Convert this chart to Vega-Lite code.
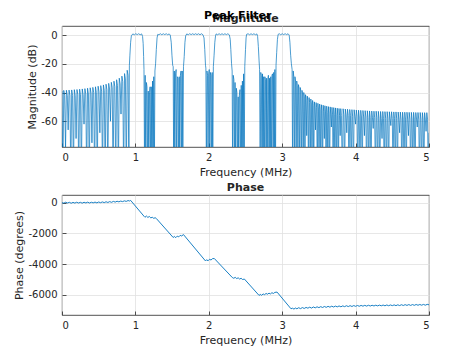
{
"$schema": "https://vega.github.io/schema/vega-lite/v6.json",
"background": "white",
"padding": {"left": 13, "top": 9, "right": 10, "bottom": 5},
"config": {
  "font": "DejaVu Sans",
  "view": {"stroke": "#262626", "strokeWidth": 0.8},
  "axis": {"grid": true, "gridColor": "#E1E1E1", "gridWidth": 0.8, "domain": false, "tickSize": -4, "tickColor": "#262626", "tickWidth": 0.8, "labelFontSize": 10, "titleFontSize": 11, "labelColor": "#262626", "titleColor": "#262626", "titleFontWeight": "normal", "labelFont": "DejaVu Sans", "titleFont": "DejaVu Sans", "labelExpr": "datum.value == 0 ? '0' : (datum.value < 0 ? '-' + abs(datum.value) : '' + datum.value)"},
  "axisX": {"labelPadding": 9, "titlePadding": 4},
  "axisY": {"labelPadding": 9, "titlePadding": 3},
  "title": {"fontSize": 11, "font": "DejaVu Sans", "fontWeight": "bold", "color": "#000000"}
},
"title": {"text": "Peak Filter", "offset": -8, "anchor": "middle", "dx": 16},
"spacing": 48,
"bounds": "flush",
"datasets": {
"mag": [
{"f":0.0,"db":-39},
{"f":0.012,"db":-100},{"f":0.024,"db":-38.5},{"f":0.036,"db":-42},
{"f":0.048,"db":-80},{"f":0.06,"db":-38.4},{"f":0.072,"db":-42},
{"f":0.084,"db":-66},{"f":0.096,"db":-38.3},{"f":0.108,"db":-42},
{"f":0.12,"db":-100},{"f":0.132,"db":-38.2},{"f":0.144,"db":-42},
{"f":0.156,"db":-100},{"f":0.168,"db":-38.0},{"f":0.18,"db":-42},
{"f":0.192,"db":-72},{"f":0.204,"db":-37.9},{"f":0.216,"db":-41.5},
{"f":0.228,"db":-100},{"f":0.24,"db":-37.7},{"f":0.252,"db":-41.5},
{"f":0.264,"db":-100},{"f":0.276,"db":-37.5},{"f":0.288,"db":-41.5},
{"f":0.3,"db":-62},{"f":0.312,"db":-37.3},{"f":0.324,"db":-41},
{"f":0.336,"db":-100},{"f":0.348,"db":-37.0},{"f":0.36,"db":-41},
{"f":0.372,"db":-100},{"f":0.384,"db":-36.7},{"f":0.396,"db":-40.5},
{"f":0.408,"db":-75},{"f":0.42,"db":-36.4},{"f":0.432,"db":-40},
{"f":0.444,"db":-100},{"f":0.456,"db":-36.0},{"f":0.468,"db":-40},
{"f":0.48,"db":-100},{"f":0.492,"db":-35.6},{"f":0.504,"db":-39.5},
{"f":0.516,"db":-68},{"f":0.528,"db":-35.2},{"f":0.54,"db":-39},
{"f":0.552,"db":-100},{"f":0.564,"db":-34.7},{"f":0.576,"db":-38.5},
{"f":0.588,"db":-100},{"f":0.6,"db":-34.2},{"f":0.612,"db":-38},
{"f":0.624,"db":-100},{"f":0.636,"db":-33.6},{"f":0.648,"db":-37.5},
{"f":0.66,"db":-60},{"f":0.672,"db":-32.9},{"f":0.684,"db":-36.5},
{"f":0.696,"db":-100},{"f":0.708,"db":-32.1},{"f":0.72,"db":-36},
{"f":0.732,"db":-100},{"f":0.744,"db":-31.1},{"f":0.756,"db":-35},
{"f":0.768,"db":-100},{"f":0.78,"db":-30.0},{"f":0.792,"db":-34},
{"f":0.804,"db":-55},{"f":0.816,"db":-28.6},{"f":0.828,"db":-32.5},
{"f":0.84,"db":-100},{"f":0.852,"db":-26.8},{"f":0.864,"db":-30.5},
{"f":0.876,"db":-100},{"f":0.888,"db":-24.5},{"f":0.9,"db":-28},
{"f":0.912,"db":-100},{"f":0.918,"db":-21},{"f":0.925,"db":-14},{"f":0.935,"db":-5},{"f":0.945,"db":-0.5},
{"f":0.965,"db":0.8},{"f":0.985,"db":0.2},{"f":1.005,"db":0.9},{"f":1.025,"db":0.3},{"f":1.045,"db":0.9},{"f":1.065,"db":0.2},{"f":1.085,"db":0.8},{"f":1.098,"db":-1},{"f":1.106,"db":-6},{"f":1.112,"db":-15},
{"f":1.117,"db":-24},{"f":1.125,"db":-100},{"f":1.133,"db":-28},{"f":1.142,"db":-100},{"f":1.15,"db":-33},{"f":1.158,"db":-36},{"f":1.166,"db":-100},{"f":1.175,"db":-39},{"f":1.183,"db":-100},{"f":1.192,"db":-40},{"f":1.2,"db":-36},{"f":1.208,"db":-100},{"f":1.216,"db":-36},{"f":1.225,"db":-100},{"f":1.233,"db":-32},{"f":1.242,"db":-100},{"f":1.25,"db":-29},{"f":1.258,"db":-100},{"f":1.266,"db":-25},{"f":1.275,"db":-20},{"f":1.285,"db":-10},{"f":1.295,"db":-2},{"f":1.305,"db":0.5},
{"f":1.32,"db":0.2},{"f":1.34,"db":0.9},{"f":1.36,"db":0.2},{"f":1.38,"db":0.9},{"f":1.4,"db":0.3},{"f":1.42,"db":0.9},{"f":1.44,"db":0.2},{"f":1.46,"db":0.8},{"f":1.475,"db":0},{"f":1.488,"db":-5},{"f":1.498,"db":-14},{"f":1.508,"db":-21},
{"f":1.515,"db":-22},{"f":1.522,"db":-100},{"f":1.53,"db":-25},{"f":1.538,"db":-100},{"f":1.546,"db":-27},{"f":1.555,"db":-24},{"f":1.563,"db":-100},{"f":1.572,"db":-29},{"f":1.58,"db":-30},{"f":1.588,"db":-100},{"f":1.597,"db":-29},{"f":1.605,"db":-100},{"f":1.613,"db":-28},{"f":1.622,"db":-25},{"f":1.63,"db":-100},{"f":1.638,"db":-25},{"f":1.646,"db":-100},{"f":1.655,"db":-22},{"f":1.665,"db":-15},{"f":1.675,"db":-5},{"f":1.685,"db":-0.5},
{"f":1.7,"db":0.8},{"f":1.72,"db":0.2},{"f":1.74,"db":0.9},{"f":1.76,"db":0.3},{"f":1.78,"db":0.9},{"f":1.8,"db":0.3},{"f":1.82,"db":0.9},{"f":1.84,"db":0.3},{"f":1.86,"db":0.9},{"f":1.88,"db":0.2},{"f":1.9,"db":0.9},{"f":1.92,"db":0.2},{"f":1.935,"db":-2},{"f":1.945,"db":-10},{"f":1.955,"db":-21},
{"f":1.96,"db":-23},{"f":1.967,"db":-100},{"f":1.975,"db":-25},{"f":1.983,"db":-28},{"f":1.99,"db":-100},{"f":1.998,"db":-27},{"f":2.006,"db":-24},{"f":2.014,"db":-100},{"f":2.022,"db":-26},{"f":2.03,"db":-28},{"f":2.038,"db":-100},{"f":2.046,"db":-26},{"f":2.054,"db":-100},{"f":2.062,"db":-22},{"f":2.072,"db":-14},{"f":2.082,"db":-5},{"f":2.092,"db":-0.5},
{"f":2.1,"db":0.8},{"f":2.12,"db":0.2},{"f":2.14,"db":0.9},{"f":2.16,"db":0.3},{"f":2.18,"db":0.9},{"f":2.2,"db":0.3},{"f":2.22,"db":0.9},{"f":2.24,"db":0.3},{"f":2.26,"db":0.9},{"f":2.28,"db":0.1},{"f":2.292,"db":-3},{"f":2.3,"db":-10},{"f":2.31,"db":-20},
{"f":2.318,"db":-25},{"f":2.325,"db":-100},{"f":2.333,"db":-28},{"f":2.342,"db":-31},{"f":2.35,"db":-100},{"f":2.358,"db":-33},{"f":2.366,"db":-100},{"f":2.375,"db":-37},{"f":2.383,"db":-40},{"f":2.392,"db":-100},{"f":2.4,"db":-43},{"f":2.408,"db":-100},{"f":2.416,"db":-42},{"f":2.425,"db":-38},{"f":2.433,"db":-100},{"f":2.442,"db":-35},{"f":2.45,"db":-100},{"f":2.458,"db":-32},{"f":2.466,"db":-100},{"f":2.474,"db":-27},{"f":2.482,"db":-100},
{"f":2.49,"db":-22},{"f":2.5,"db":-10},{"f":2.508,"db":-2},{"f":2.515,"db":0.5},{"f":2.535,"db":0.9},{"f":2.555,"db":0.2},{"f":2.575,"db":0.9},{"f":2.595,"db":0.3},{"f":2.615,"db":0.9},{"f":2.635,"db":0.2},{"f":2.655,"db":0.8},{"f":2.665,"db":-1},{"f":2.675,"db":-8},{"f":2.685,"db":-18},
{"f":2.692,"db":-24},{"f":2.7,"db":-100},{"f":2.708,"db":-26},{"f":2.716,"db":-28},{"f":2.724,"db":-100},{"f":2.732,"db":-27},{"f":2.74,"db":-100},{"f":2.748,"db":-29},{"f":2.756,"db":-100},{"f":2.764,"db":-29},{"f":2.772,"db":-31},{"f":2.78,"db":-100},{"f":2.788,"db":-30},{"f":2.796,"db":-100},{"f":2.804,"db":-31},{"f":2.812,"db":-28},{"f":2.82,"db":-100},{"f":2.828,"db":-30},{"f":2.836,"db":-100},{"f":2.844,"db":-29},{"f":2.852,"db":-100},{"f":2.86,"db":-28},{"f":2.868,"db":-27},{"f":2.876,"db":-100},{"f":2.884,"db":-26},{"f":2.892,"db":-100},{"f":2.9,"db":-24},{"f":2.908,"db":-100},{"f":2.916,"db":-21},{"f":2.925,"db":-12},{"f":2.935,"db":-3},{"f":2.945,"db":0.5},
{"f":2.96,"db":0.9},{"f":2.98,"db":0.2},{"f":3.0,"db":0.9},{"f":3.02,"db":0.3},{"f":3.04,"db":0.9},{"f":3.06,"db":0.3},{"f":3.08,"db":0.9},{"f":3.095,"db":0},{"f":3.105,"db":-5},{"f":3.115,"db":-14},{"f":3.125,"db":-20},{"f":3.135,"db":-24},
{"f":3.142,"db":-100},{"f":3.15,"db":-25},{"f":3.158,"db":-29},{"f":3.166,"db":-100},{"f":3.174,"db":-29},{"f":3.182,"db":-32},{"f":3.19,"db":-100},{"f":3.198,"db":-32},{"f":3.206,"db":-35},{"f":3.214,"db":-100},{"f":3.222,"db":-34.5},{"f":3.23,"db":-37},{"f":3.238,"db":-100},{"f":3.246,"db":-36.5},{"f":3.254,"db":-39},{"f":3.262,"db":-100},{"f":3.27,"db":-38.5},{"f":3.278,"db":-41},{"f":3.286,"db":-100},{"f":3.294,"db":-40},{"f":3.302,"db":-43},{"f":3.31,"db":-100},{"f":3.318,"db":-41.5},{"f":3.326,"db":-44},{"f":3.334,"db":-70},{"f":3.342,"db":-42.5},{"f":3.35,"db":-45.5},{"f":3.358,"db":-100},{"f":3.366,"db":-43.5},{"f":3.374,"db":-47},{"f":3.382,"db":-100},{"f":3.39,"db":-44.5},{"f":3.398,"db":-48},{"f":3.406,"db":-100},{"f":3.414,"db":-45.5},{"f":3.422,"db":-49},{"f":3.43,"db":-100},{"f":3.438,"db":-46.5},{"f":3.446,"db":-50},{"f":3.454,"db":-66},{"f":3.462,"db":-47},{"f":3.47,"db":-50.5},{"f":3.478,"db":-100},
{"f":3.486,"db":-47.5},{"f":3.494,"db":-51.5},{"f":3.502,"db":-100},{"f":3.51,"db":-48},{"f":3.518,"db":-52},{"f":3.526,"db":-100},{"f":3.534,"db":-48.5},{"f":3.542,"db":-52.5},{"f":3.55,"db":-100},{"f":3.558,"db":-48.8},{"f":3.566,"db":-53},{"f":3.574,"db":-72},{"f":3.582,"db":-49.2},{"f":3.59,"db":-53.5},{"f":3.598,"db":-100},{"f":3.606,"db":-49.5},{"f":3.614,"db":-54},{"f":3.622,"db":-100},{"f":3.63,"db":-49.8},{"f":3.638,"db":-54.5},{"f":3.646,"db":-100},{"f":3.654,"db":-50},{"f":3.662,"db":-55},{"f":3.67,"db":-64},{"f":3.678,"db":-50.3},{"f":3.686,"db":-55},{"f":3.694,"db":-100},{"f":3.702,"db":-50.5},{"f":3.71,"db":-55.5},{"f":3.718,"db":-100},{"f":3.726,"db":-50.7},{"f":3.734,"db":-55.5},{"f":3.742,"db":-100},{"f":3.75,"db":-50.9},{"f":3.758,"db":-56},{"f":3.766,"db":-100},{"f":3.774,"db":-51.1},{"f":3.782,"db":-56},{"f":3.79,"db":-70},{"f":3.798,"db":-51.2},{"f":3.806,"db":-56},
{"f":3.82,"db":-100},{"f":3.83,"db":-51.3},{"f":3.84,"db":-55.5},{"f":3.85,"db":-100},{"f":3.86,"db":-51.5},{"f":3.87,"db":-55.5},{"f":3.88,"db":-68},{"f":3.89,"db":-51.6},{"f":3.9,"db":-56},{"f":3.91,"db":-100},{"f":3.92,"db":-51.8},{"f":3.93,"db":-56},{"f":3.94,"db":-100},{"f":3.95,"db":-51.9},{"f":3.96,"db":-56.5},{"f":3.97,"db":-100},{"f":3.98,"db":-52.0},{"f":3.99,"db":-56.5},
{"f":4.0,"db":-62},{"f":4.01,"db":-52.2},{"f":4.02,"db":-56.5},{"f":4.03,"db":-100},{"f":4.04,"db":-52.3},{"f":4.05,"db":-57},{"f":4.06,"db":-100},{"f":4.07,"db":-52.4},{"f":4.08,"db":-57},{"f":4.09,"db":-100},{"f":4.1,"db":-52.5},{"f":4.11,"db":-57},{"f":4.12,"db":-70},{"f":4.13,"db":-52.6},{"f":4.14,"db":-57},{"f":4.15,"db":-100},{"f":4.16,"db":-52.7},{"f":4.17,"db":-57.5},{"f":4.18,"db":-100},{"f":4.19,"db":-52.8},{"f":4.2,"db":-57.5},{"f":4.21,"db":-100},{"f":4.22,"db":-52.9},{"f":4.23,"db":-57.5},{"f":4.24,"db":-65},{"f":4.25,"db":-53.0},{"f":4.26,"db":-57.5},{"f":4.27,"db":-100},{"f":4.28,"db":-53.0},{"f":4.29,"db":-57.5},{"f":4.3,"db":-100},{"f":4.31,"db":-53.1},{"f":4.32,"db":-58},{"f":4.33,"db":-100},{"f":4.34,"db":-53.2},{"f":4.35,"db":-58},{"f":4.36,"db":-72},{"f":4.37,"db":-53.2},{"f":4.38,"db":-58},{"f":4.39,"db":-100},{"f":4.4,"db":-53.3},{"f":4.41,"db":-58},{"f":4.42,"db":-100},{"f":4.43,"db":-53.3},{"f":4.44,"db":-58},{"f":4.45,"db":-100},{"f":4.46,"db":-53.4},{"f":4.47,"db":-58},{"f":4.48,"db":-63},{"f":4.49,"db":-53.4},{"f":4.5,"db":-58},
{"f":4.51,"db":-100},{"f":4.52,"db":-53.5},{"f":4.53,"db":-58},{"f":4.54,"db":-100},{"f":4.55,"db":-53.5},{"f":4.56,"db":-58},{"f":4.57,"db":-100},{"f":4.58,"db":-53.6},{"f":4.59,"db":-58.5},{"f":4.6,"db":-68},{"f":4.61,"db":-53.6},{"f":4.62,"db":-58.5},{"f":4.63,"db":-100},{"f":4.64,"db":-53.7},{"f":4.65,"db":-58.5},{"f":4.66,"db":-100},{"f":4.67,"db":-53.7},{"f":4.68,"db":-58.5},{"f":4.69,"db":-100},{"f":4.7,"db":-53.7},{"f":4.71,"db":-58.5},{"f":4.72,"db":-70},{"f":4.73,"db":-53.8},{"f":4.74,"db":-58.5},{"f":4.75,"db":-100},{"f":4.76,"db":-53.8},{"f":4.77,"db":-58.5},{"f":4.78,"db":-100},{"f":4.79,"db":-53.8},{"f":4.8,"db":-58.5},{"f":4.81,"db":-100},{"f":4.82,"db":-53.9},{"f":4.83,"db":-58.5},{"f":4.84,"db":-64},{"f":4.85,"db":-53.9},{"f":4.86,"db":-58.5},{"f":4.87,"db":-100},{"f":4.88,"db":-53.9},{"f":4.89,"db":-58.5},{"f":4.9,"db":-100},{"f":4.91,"db":-54.0},{"f":4.92,"db":-58.5},{"f":4.93,"db":-100},{"f":4.94,"db":-54.0},{"f":4.95,"db":-58.5},{"f":4.96,"db":-67},{"f":4.97,"db":-54.0},{"f":4.98,"db":-58.5},{"f":4.99,"db":-100},{"f":5.0,"db":-68}
],
"phase": [
{"f":0.0,"deg":0},{"f":0.025,"deg":-30},{"f":0.05,"deg":30},{"f":0.075,"deg":-20},{"f":0.1,"deg":25},{"f":0.125,"deg":-35},{"f":0.15,"deg":20},{"f":0.175,"deg":-25},{"f":0.2,"deg":30},{"f":0.225,"deg":-20},{"f":0.25,"deg":25},{"f":0.275,"deg":-30},{"f":0.3,"deg":30},{"f":0.325,"deg":-15},{"f":0.35,"deg":35},{"f":0.375,"deg":-20},{"f":0.4,"deg":30},{"f":0.425,"deg":-10},{"f":0.45,"deg":40},{"f":0.475,"deg":-10},{"f":0.5,"deg":45},{"f":0.525,"deg":0},{"f":0.55,"deg":50},{"f":0.575,"deg":5},{"f":0.6,"deg":60},{"f":0.625,"deg":15},{"f":0.65,"deg":70},{"f":0.675,"deg":25},{"f":0.7,"deg":85},{"f":0.725,"deg":40},{"f":0.75,"deg":95},{"f":0.775,"deg":55},{"f":0.8,"deg":105},{"f":0.825,"deg":70},{"f":0.85,"deg":120},{"f":0.875,"deg":85},{"f":0.9,"deg":140},{"f":0.92,"deg":110},{"f":0.935,"deg":150},
{"f":1.12,"deg":-900},{"f":1.13,"deg":-950},{"f":1.15,"deg":-870},{"f":1.17,"deg":-960},{"f":1.19,"deg":-900},{"f":1.21,"deg":-990},{"f":1.23,"deg":-950},{"f":1.25,"deg":-1020},{"f":1.27,"deg":-980},{"f":1.285,"deg":-1030},
{"f":1.515,"deg":-2270},{"f":1.53,"deg":-2200},{"f":1.55,"deg":-2280},{"f":1.57,"deg":-2180},{"f":1.59,"deg":-2230},{"f":1.61,"deg":-2130},{"f":1.63,"deg":-2170},{"f":1.655,"deg":-2080},
{"f":1.955,"deg":-3800},{"f":1.97,"deg":-3720},{"f":1.99,"deg":-3790},{"f":2.01,"deg":-3690},{"f":2.03,"deg":-3740},{"f":2.05,"deg":-3650},{"f":2.075,"deg":-3640},
{"f":2.32,"deg":-4880},{"f":2.34,"deg":-4930},{"f":2.36,"deg":-4870},{"f":2.38,"deg":-4950},{"f":2.4,"deg":-4900},{"f":2.42,"deg":-4980},{"f":2.44,"deg":-4930},{"f":2.46,"deg":-5010},{"f":2.485,"deg":-4980},
{"f":2.685,"deg":-6050},{"f":2.7,"deg":-5980},{"f":2.72,"deg":-6040},{"f":2.74,"deg":-5950},{"f":2.76,"deg":-6000},{"f":2.78,"deg":-5920},{"f":2.8,"deg":-5970},{"f":2.82,"deg":-5900},{"f":2.84,"deg":-5950},{"f":2.86,"deg":-5870},{"f":2.88,"deg":-5920},{"f":2.9,"deg":-5850},{"f":2.93,"deg":-5830},
{"f":3.12,"deg":-6920},{"f":3.14,"deg":-6880},{"f":3.16,"deg":-6940},{"f":3.18,"deg":-6870},{"f":3.2,"deg":-6920},{"f":3.225,"deg":-6850},{"f":3.25,"deg":-6910},{"f":3.275,"deg":-6840},{"f":3.3,"deg":-6900},{"f":3.325,"deg":-6830},{"f":3.35,"deg":-6880},{"f":3.375,"deg":-6815},{"f":3.4,"deg":-6875},{"f":3.425,"deg":-6800},{"f":3.45,"deg":-6860},{"f":3.475,"deg":-6790},{"f":3.5,"deg":-6845},{"f":3.525,"deg":-6780},{"f":3.55,"deg":-6835},{"f":3.575,"deg":-6770},{"f":3.6,"deg":-6825},{"f":3.625,"deg":-6760},{"f":3.65,"deg":-6815},{"f":3.675,"deg":-6750},{"f":3.7,"deg":-6805},{"f":3.725,"deg":-6745},{"f":3.75,"deg":-6795},{"f":3.775,"deg":-6735},{"f":3.8,"deg":-6790},{"f":3.825,"deg":-6730},{"f":3.85,"deg":-6780},{"f":3.875,"deg":-6720},{"f":3.9,"deg":-6775},{"f":3.925,"deg":-6715},{"f":3.95,"deg":-6770},{"f":3.975,"deg":-6710},{"f":4.0,"deg":-6760},{"f":4.025,"deg":-6705},{"f":4.05,"deg":-6755},{"f":4.075,"deg":-6700},{"f":4.1,"deg":-6750},{"f":4.125,"deg":-6695},{"f":4.15,"deg":-6745},{"f":4.175,"deg":-6690},{"f":4.2,"deg":-6740},{"f":4.225,"deg":-6690},{"f":4.25,"deg":-6735},{"f":4.275,"deg":-6685},{"f":4.3,"deg":-6730},{"f":4.325,"deg":-6680},{"f":4.35,"deg":-6725},{"f":4.375,"deg":-6675},{"f":4.4,"deg":-6725},{"f":4.425,"deg":-6670},{"f":4.45,"deg":-6720},{"f":4.475,"deg":-6670},{"f":4.5,"deg":-6715},{"f":4.525,"deg":-6665},{"f":4.55,"deg":-6715},{"f":4.575,"deg":-6660},{"f":4.6,"deg":-6710},{"f":4.625,"deg":-6655},{"f":4.65,"deg":-6705},{"f":4.675,"deg":-6650},{"f":4.7,"deg":-6700},{"f":4.725,"deg":-6645},{"f":4.75,"deg":-6700},{"f":4.775,"deg":-6645},{"f":4.8,"deg":-6695},{"f":4.825,"deg":-6640},{"f":4.85,"deg":-6690},{"f":4.875,"deg":-6640},{"f":4.9,"deg":-6685},{"f":4.925,"deg":-6635},{"f":4.95,"deg":-6685},{"f":4.975,"deg":-6630},{"f":5.0,"deg":-6660}
]
},
"vconcat": [
{
  "width": 367, "height": 121,
  "title": {"text": "Magnitude", "offset": 2, "color": "#262626"},
  "data": {"name": "mag"},
  "mark": {"type": "line", "clip": true, "strokeWidth": 0.7, "color": "#0072BD"},
  "encoding": {
    "x": {"field": "f", "type": "quantitative", "scale": {"domain": [0, 5], "nice": false}, "axis": {"values": [0, 1, 2, 3, 4, 5], "title": "Frequency (MHz)"}},
    "y": {"field": "db", "type": "quantitative", "scale": {"domain": [-77.9, 6.3], "nice": false, "zero": false}, "axis": {"values": [0, -20, -40, -60], "title": "Magnitude (dB)"}}
  }
},
{
  "width": 367, "height": 120,
  "title": {"text": "Phase", "offset": 2, "color": "#262626"},
  "data": {"name": "phase"},
  "mark": {"type": "line", "clip": true, "strokeWidth": 0.9, "color": "#0072BD"},
  "encoding": {
    "x": {"field": "f", "type": "quantitative", "scale": {"domain": [0, 5], "nice": false}, "axis": {"values": [0, 1, 2, 3, 4, 5], "title": "Frequency (MHz)"}},
    "y": {"field": "deg", "type": "quantitative", "scale": {"domain": [-7325, 502], "nice": false, "zero": false}, "axis": {"values": [0, -2000, -4000, -6000], "title": "Phase (degrees)"}}
  }
}
]
}
